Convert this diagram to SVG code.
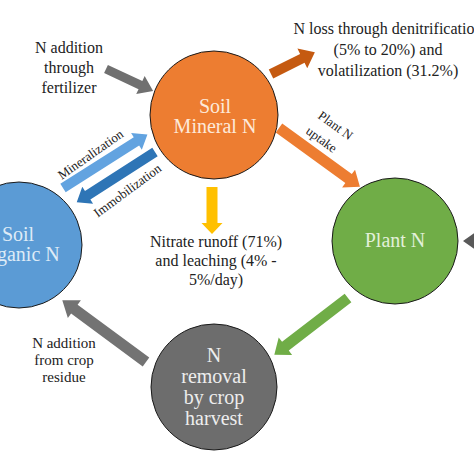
<svg xmlns="http://www.w3.org/2000/svg" width="474" height="474" viewBox="0 0 474 474">
<style>
.node{stroke:#1a1a1a;stroke-width:1}
.nt{font-family:"Liberation Serif","Times New Roman",serif;font-size:20px;text-anchor:middle}
.lb{font-family:"Liberation Serif","Times New Roman",serif;font-size:16px;fill:#222;text-anchor:middle}
.sm{font-family:"Liberation Serif","Times New Roman",serif;font-size:13px;fill:#222;text-anchor:middle}
</style>
<rect width="474" height="474" fill="#fff"/>
<g id="connectors">
<path fill="#707070" transform="translate(106,69) rotate(25)" d="M0,-4.5 H38 V-10 L52,0 L38,10 V4.5 H0 Z"/>
<path fill="#C55A11" transform="translate(271,74) rotate(-26.5)" d="M0,-5 H35 V-11 L49,0 L35,11 V5 H0 Z"/>
<path fill="#ED7D31" transform="translate(279,128) rotate(36)" d="M0,-5.5 H86 V-11 L100,0 L86,11 V5.5 H0 Z"/>
<path fill="#FFC000" transform="translate(212,187) rotate(90)" d="M0,-5.5 H36 V-10.5 L47,0 L36,10.5 V5.5 H0 Z"/>
<path fill="#62A3E0" transform="translate(63,188) rotate(-32.4)" d="M0,-5 H87 V-10 L100,0 L87,10 V5 H0 Z"/>
<path fill="#2E75B6" transform="translate(155,152) rotate(147.3)" d="M0,-5 H80 V-10 L93,0 L80,10 V5 H0 Z"/>
<path fill="#70AD47" transform="translate(348,298) rotate(142.4)" d="M0,-5.5 H79 V-11 L93,0 L79,11 V5.5 H0 Z"/>
<path fill="#737373" transform="translate(146,362) rotate(216.4)" d="M0,-5.5 H89 V-11 L104,0 L89,11 V5.5 H0 Z"/>
<path fill="#595959" d="M463,241 L477,231 L477,236 L490,236 L490,246 L477,246 L477,251 Z"/>
</g>
<g id="soil-mineral-n">
<circle class="node" cx="214" cy="115" r="64" fill="#ED7D31"/>
<text class="nt" fill="#FDE9D9" x="215" y="113">Soil</text>
<text class="nt" fill="#FDE9D9" x="215" y="133">Mineral N</text>
</g>
<g id="plant-n">
<circle class="node" cx="395" cy="241" r="63" fill="#70AD47"/>
<text class="nt" fill="#E2F0D9" x="395" y="247">Plant N</text>
</g>
<g id="soil-organic-n">
<circle class="node" cx="19" cy="245" r="63" fill="#5B9BD5"/>
<text class="nt" fill="#DEEBF7" x="18" y="241">Soil</text>
<text class="nt" fill="#DEEBF7" x="18" y="261">Organic N</text>
</g>
<g id="n-removal">
<circle class="node" cx="214" cy="387" r="63" fill="#6D6D6D"/>
<text class="nt" fill="#EDEDED" x="214" y="362">N</text>
<text class="nt" fill="#EDEDED" x="214" y="383">removal</text>
<text class="nt" fill="#EDEDED" x="214" y="404">by crop</text>
<text class="nt" fill="#EDEDED" x="214" y="425">harvest</text>
</g>
<g id="labels">
<text class="lb" x="69" y="53">N addition</text>
<text class="lb" x="69" y="73">through</text>
<text class="lb" x="69" y="93">fertilizer</text>
<text class="lb" x="388" y="34">N loss through denitrification</text>
<text class="lb" x="388" y="55">(5% to 20%) and</text>
<text class="lb" x="388" y="76">volatilization  (31.2%)</text>
<text class="lb" x="216" y="247">Nitrate runoff (71%)</text>
<text class="lb" x="216" y="266">and leaching (4% -</text>
<text class="lb" x="216" y="285">5%/day)</text>
<text class="lb" style="font-size:15px" x="64" y="348">N addition</text>
<text class="lb" style="font-size:15px" x="64" y="365">from crop</text>
<text class="lb" style="font-size:15px" x="64" y="382">residue</text>
<text class="sm" transform="translate(333,129) rotate(36)">Plant N</text>
<text class="sm" transform="translate(319,143) rotate(36)">uptake</text>
<text class="sm" transform="translate(93,158) rotate(-35)">Mineralization</text>
<text class="sm" transform="translate(130,194) rotate(-36.5)">Immobilization</text>
</g>
</svg>
